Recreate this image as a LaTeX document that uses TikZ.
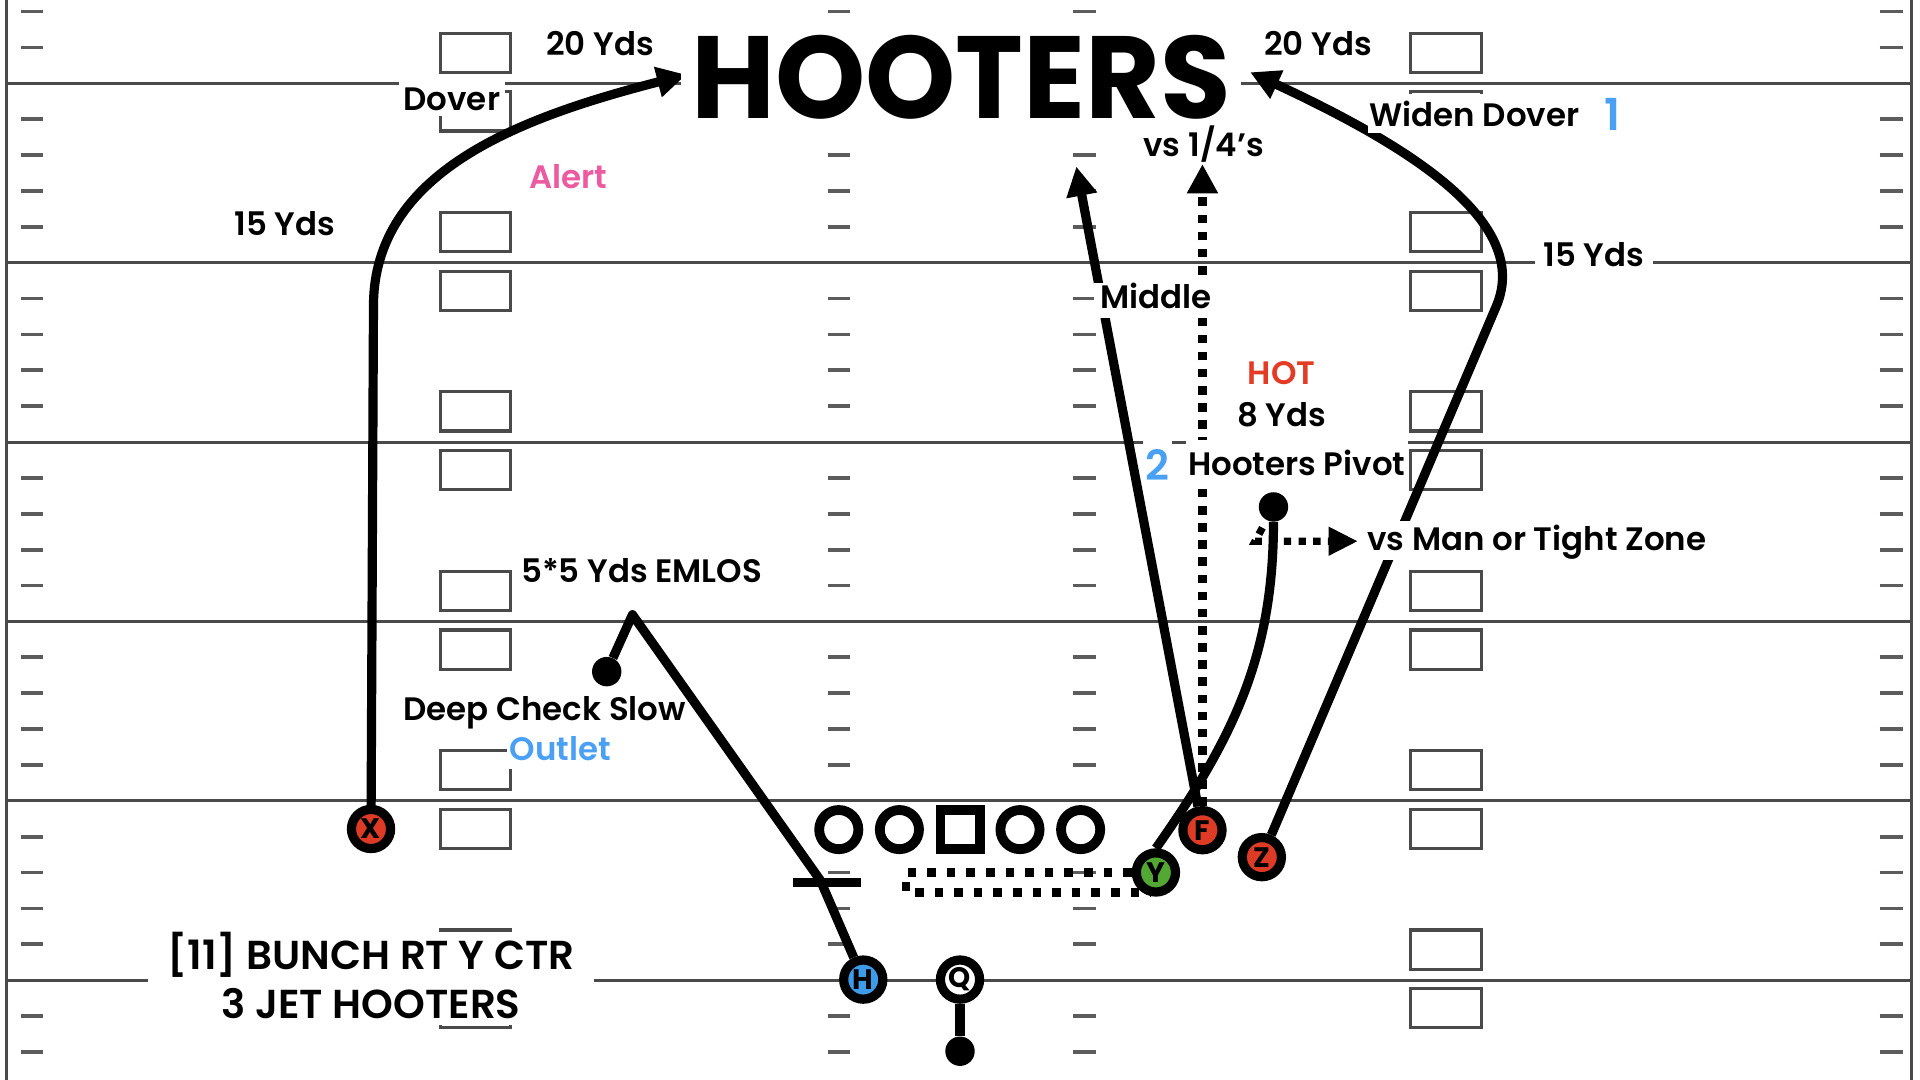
\documentclass[tikz,border=0pt]{standalone}
\usepackage{fontspec}
\setmainfont{Poppins}
\newfontfamily\pmed{Poppins SemiBold}
\newfontfamily\pbld{Poppins Bold}
\usetikzlibrary{arrows.meta}
\definecolor{pred}{HTML}{DE3B27}
\definecolor{pblue}{HTML}{3E9BEA}
\definecolor{pgreen}{HTML}{53A833}
\definecolor{ppink}{HTML}{EC5BA1}
\definecolor{tblue}{HTML}{4AA0F5}
\definecolor{hotred}{HTML}{E33B24}
\definecolor{fgray}{HTML}{4A4A4A}
\definecolor{tgray}{HTML}{5C5C5C}
\begin{document}
\begin{tikzpicture}[x=1pt,y=-1pt,
  yardline/.style={draw=fgray,line width=2.5pt},
  numbox/.style={draw=fgray,line width=2.5pt},
  hashtick/.style={draw=tgray,line width=3pt},
  player/.style={circle,draw=black,line width=7.5pt,minimum size=32pt,inner sep=0pt,font=\pbld\fontsize{23}{23}\selectfont},
  olcircle/.style={circle,draw=black,line width=8pt,minimum size=32pt,inner sep=0pt,fill=white},
  olsquare/.style={rectangle,draw=black,line width=8pt,minimum size=32pt,inner sep=0pt,fill=white},
  dotn/.style={circle,fill=black,minimum size=24pt,inner sep=0pt},
  route/.style={draw=black,line width=7.5pt,line join=round},
  dotroute/.style={draw=black,line width=7pt,dash pattern=on 7pt off 7pt},
  jetroute/.style={draw=black,line width=7pt,dash pattern=on 7pt off 9pt},
  pivotroute/.style={draw=black,line width=6pt,dash pattern=on 6pt off 6pt},
  arr/.style={-{Triangle[length=24pt,width=24pt]}},
  lbl/.style={font=\pmed\fontsize{26.5}{32}\selectfont,anchor=base,inner sep=0pt,text=black},
  wbg/.style={fill=white}
]
\useasboundingbox (0,0) rectangle (1568,882);
\fill[white] (0,0) rectangle (1568,882);

% ---------- field ----------
\draw[yardline] (5,0) -- (5,882);
\draw[yardline] (1561,0) -- (1561,882);
\foreach \k in {0,...,5} {
  \pgfmathsetmacro\yy{68+146.5*\k}
  \draw[yardline] (5,\yy) -- (1561,\yy);
  \draw[numbox] (360,{\yy-41}) rectangle (417,{\yy-9});
  \draw[numbox] (360,{\yy+7}) rectangle (417,{\yy+39});
  \draw[numbox] (1152,{\yy-41}) rectangle (1210,{\yy-9});
  \draw[numbox] (1152,{\yy+7}) rectangle (1210,{\yy+39});
}
\foreach \j in {-2,...,27} {
  \pgfmathtruncatemacro\m{mod(\j+10,5)}
  \ifnum\m=0 \else
    \pgfmathsetmacro\yy{68+29.3*\j}
    \draw[hashtick] (17,\yy) -- (35,\yy) (676,\yy) -- (694,\yy) (876,\yy) -- (895,\yy) (1535,\yy) -- (1554,\yy);
  \fi
}

% ---------- players ----------
\node[olcircle] (LT) at (685,677.5) {};
\node[olcircle] (LG) at (734.5,677.5) {};
\node[olsquare] (C) at (784,677.5) {};
\node[olcircle] (RG) at (833,677.5) {};
\node[olcircle] (RT) at (882.5,677.5) {};
\node[player,fill=pred] (X) at (303,677) {X};
\node[player,fill=pred] (F) at (982,678) {F};
\node[player,fill=pred] (Z) at (1030.5,700) {Z};
\node[player,fill=pgreen] (Y) at (944,712.5) {Y};
\node[player,fill=pblue] (H) at (705,800) {H};
\node[player,fill=white] (Q) at (784,800) {Q};
\node[dotn] (qdot) at (784,858.5) {};
\node[dotn] (hdot) at (1040,414) {};
\node[dotn] (edot) at (495.5,548.5) {};

% ---------- routes ----------
\draw[route,arr] (X) -- (305,250) .. controls (305,140) and (424.5,96) .. (560.5,61);
\draw[route,arr] (Z) -- (1222,250) .. controls (1251,181) and (1150,119) .. (1021,59);
\draw[route,arr] (F) -- (879,136);
\draw[dotroute,arr] (F.north) -- (982,134);
\draw[route] (Y.north) .. controls (1006.7,603.8) and (1040,536) .. (hdot);
\coordinate (pv) at (1031,431);
\draw[pivotroute,-{Triangle[length=24pt,width=22pt]}] (pv) -- (1025,442) -- (1109,442);
\draw[route] (H) -- (670,719) -- (516.5,502) -- (edot);
\coordinate (barL) at (648,720.5);
\coordinate (barR) at (703,720.5);
\draw[route,line width=7pt] (barL) -- (barR);
\draw[route] (Q) -- (qdot);
\draw[jetroute] (Y) -- (740,712.5) -- (740,729) -- (940,729);

% ---------- labels ----------
\node[lbl,wbg,font=\pbld\fontsize{95.5}{100}\selectfont,inner xsep=8pt,text height=76.6pt,text depth=6pt] (title) at (785,96.6) {\scalebox{0.982}[1]{HOOTERS}};
\node[lbl] (l20a) at (490,45) {20 Yds};
\node[lbl] (l20b) at (1076.5,45) {20 Yds};
\node[lbl,wbg,inner xsep=4pt,text height=26pt,text depth=5pt] (ldover) at (369,90) {Dover};
\node[lbl,text=ppink] (lalert) at (464,153.8) {Alert};
\node[lbl] (l15a) at (232.5,192) {15 Yds};
\node[lbl,wbg,inner xsep=1pt,text height=26.5pt,text depth=5pt] (lwiden) at (1204,103.4) {Widen Dover};
\node[lbl,text=tblue,font=\pmed\fontsize{36}{40}\selectfont] (lone) at (1317,106.7) {1};
\node[lbl,wbg,inner xsep=7pt,text height=22pt,text depth=7pt] (l15b) at (1301.6,217.8) {15 Yds};
\node[lbl] (lvs) at (983,127.5) {vs 1/4’s};
\node[lbl,wbg,inner xsep=5pt,text height=21pt,text depth=8pt] (lmid) at (944,252) {Middle};
\node[lbl,text=hotred] (lhot) at (1046.6,314.4) {HOT};
\node[lbl] (l8) at (1046.8,347.9) {8 Yds};
\node[lbl,wbg,text=tblue,font=\pmed\fontsize{34}{38}\selectfont,inner xsep=2pt,text height=32.5pt,text depth=4pt] (ltwo) at (945,392) {2};
\node[lbl,wbg,inner xsep=2pt,text height=29.2pt,text depth=7.3pt] (lpivot) at (1059,388.7) {Hooters Pivot};
\node[lbl,wbg,inner xsep=2pt,text height=24pt,text depth=8pt] (lman) at (1255,449.2) {vs Man or Tight Zone};
\node[lbl] (lemlos) at (524,475.8) {5*5 Yds EMLOS};
\node[lbl] (ldeep) at (444.8,588.5) {Deep Check Slow};
\node[lbl,wbg,text=tblue,inner xsep=2pt,text height=25pt,text depth=7pt] (loutlet) at (457.5,620.7) {Outlet};
\node[lbl,wbg,font=\pmed\fontsize{33}{36}\selectfont,minimum width=365pt,text height=30.4pt,text depth=45.6pt] (lplay1) at (303,791.4) {[11] BUNCH RT Y CTR};
\node[lbl,font=\pmed\fontsize{33}{36}\selectfont] (lplay2) at (303,831.6) {3 JET HOOTERS};
\end{tikzpicture}
\end{document}
